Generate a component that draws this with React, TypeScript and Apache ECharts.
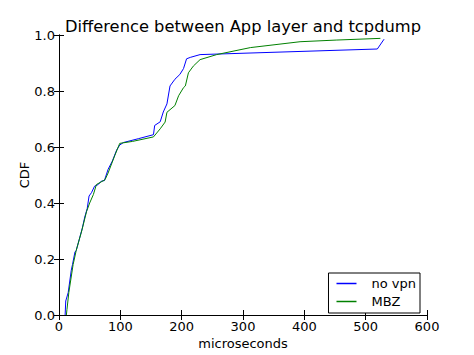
import React, { useEffect, useRef } from "react";
import * as echarts from "echarts";

const title = "Difference between App layer and tcpdump";
const xLabel = "microseconds";
const yLabel = "CDF";
const seriesNames = ["no vpn", "MBZ"];

const noVpnX = [10, 11, 15, 20, 22, 26, 28, 33, 38, 42, 46, 49, 53, 58, 64, 69, 74, 80, 87, 94, 99, 105, 130, 154, 156, 165, 170, 176, 181, 189, 197, 203, 208, 214, 230, 519, 530];
const noVpnY = [0, 0.05, 0.08, 0.16, 0.18, 0.225, 0.23, 0.27, 0.31, 0.35, 0.38, 0.425, 0.437, 0.46, 0.466, 0.478, 0.48, 0.52, 0.55, 0.589, 0.607, 0.616, 0.63, 0.644, 0.677, 0.69, 0.725, 0.754, 0.818, 0.842, 0.859, 0.88, 0.915, 0.92, 0.93, 0.95, 0.985];

const mbzX = [12, 13, 16, 23, 28, 37, 45, 50, 56, 61, 75, 80, 91, 99, 120, 154, 165, 173, 176, 189, 195, 203, 206, 211, 219, 230, 257, 312, 393, 453, 524];
const mbzY = [0, 0.02, 0.08, 0.18, 0.23, 0.3, 0.37, 0.4, 0.43, 0.466, 0.483, 0.507, 0.57, 0.613, 0.62, 0.636, 0.665, 0.689, 0.724, 0.748, 0.783, 0.812, 0.818, 0.865, 0.889, 0.912, 0.93, 0.955, 0.976, 0.982, 0.988];

const FONT = "DejaVu Sans";

export default function App() {
  const ref = useRef<HTMLDivElement>(null);
  useEffect(() => {
    document.body.style.margin = "0";
    const chart = echarts.init(ref.current!, undefined, { renderer: "svg" });
    const axisCommon = {
      type: "value" as const,
      axisLine: { show: true, lineStyle: { color: "#000", width: 1 } },
      axisTick: { show: true, inside: true, length: 5, lineStyle: { color: "#000" } },
      splitLine: { show: false },
    };
    chart.setOption({
      animation: false,
      backgroundColor: "#fff",
      textStyle: { fontFamily: FONT },
      title: {
        text: title,
        left: 243,
        top: 18,
        textAlign: "center",
        padding: 0,
        textStyle: { fontFamily: FONT, fontSize: 16.3, fontWeight: "normal", color: "#000" },
      },
      grid: { left: 59, right: 47, top: 35, bottom: 36 },
      legend: {
        orient: "vertical",
        right: 54,
        bottom: 42,
        data: seriesNames,
        itemWidth: 20,
        itemHeight: 1.5,
        itemGap: 5,
        icon: "rect",
        padding: [4, 4, 5, 8],
        borderColor: "#000",
        borderWidth: 1,
        backgroundColor: "#fff",
        borderRadius: 0,
        textStyle: { fontFamily: FONT, fontSize: 13, color: "#000", padding: [0, 0, 0, 10] },
      },
      xAxis: [
        {
          ...axisCommon,
          position: "bottom",
          min: 0,
          max: 600,
          interval: 100,
          name: xLabel,
          nameLocation: "middle",
          nameGap: 22,
          nameMoveOverlap: false,
          nameTextStyle: { fontFamily: FONT, fontSize: 13, color: "#000" },
          axisLabel: { fontFamily: FONT, fontSize: 13, color: "#000", margin: 5 },
        },
        {
          ...axisCommon,
          position: "top",
          min: 0,
          max: 600,
          interval: 100,
          axisLabel: { show: false },
        },
      ],
      yAxis: [
        {
          ...axisCommon,
          position: "left",
          min: 0,
          max: 1,
          interval: 0.2,
          name: yLabel,
          nameLocation: "middle",
          nameGap: 28,
          nameMoveOverlap: false,
          nameTextStyle: { fontFamily: FONT, fontSize: 13, color: "#000" },
          axisLabel: {
            fontFamily: FONT,
            fontSize: 13,
            color: "#000",
            margin: 4,
            formatter: (v: number) => v.toFixed(1),
          },
        },
        {
          ...axisCommon,
          position: "right",
          min: 0,
          max: 1,
          interval: 0.2,
          axisLabel: { show: false },
        },
      ],
      series: [
        {
          name: seriesNames[0],
          type: "line",
          data: noVpnX.map((x, i) => [x, noVpnY[i]]),
          showSymbol: false,
          symbol: "none",
          lineStyle: { color: "#0000ff", width: 1 },
          itemStyle: { color: "#0000ff" },
        },
        {
          name: seriesNames[1],
          type: "line",
          data: mbzX.map((x, i) => [x, mbzY[i]]),
          showSymbol: false,
          symbol: "none",
          lineStyle: { color: "#008000", width: 1 },
          itemStyle: { color: "#008000" },
        },
      ],
    });
    return () => chart.dispose();
  }, []);
  return <div ref={ref} style={{ width: 474, height: 355 }} />;
}
